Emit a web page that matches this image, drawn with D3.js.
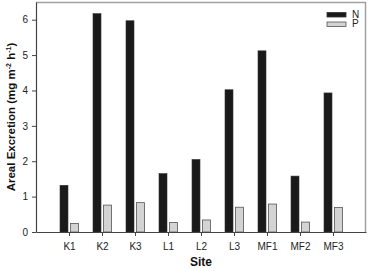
<!DOCTYPE html>
<html>
<head>
<meta charset="utf-8">
<script src="https://cdn.jsdelivr.net/npm/d3@7"></script>
<style>
  body { margin: 0; background: #fff; }
  svg { display: block; font-family: "Liberation Sans", Arial, sans-serif; }
</style>
</head>
<body>
<div class="cichart"></div>
<script>
// Data
var sites = ["K1", "K2", "K3", "L1", "L2", "L3", "MF1", "MF2", "MF3"];
var nValues = [1.32, 6.17, 5.97, 1.65, 2.05, 4.02, 5.12, 1.58, 3.93];
var pValues = [0.24, 0.76, 0.83, 0.27, 0.34, 0.70, 0.79, 0.28, 0.69];
var yTicks = [0, 1, 2, 3, 4, 5, 6];

var width = 369, height = 271;
var margin = { top: 2, right: 3, bottom: 39, left: 36 };

var svg = d3.select(".cichart").append("svg")
    .attr("width", width)
    .attr("height", height);

// x positions 1..9 inside 0..10
var x = d3.scaleLinear()
    .domain([0, sites.length + 1])
    .range([margin.left, width - margin.right]);

var y = d3.scaleLinear()
    .domain([0, 6.5])
    .range([height - margin.bottom, margin.top]);

var barW = 8;

// frame top/right (grey)
svg.append("path")
    .attr("d", "M" + margin.left + "," + (margin.top + 0.5) + "H" + (width - margin.right - 0.5) + "V" + y(0))
    .attr("fill", "none")
    .attr("stroke", "#a0a0a0")
    .attr("stroke-width", 1.5);

// N bars
svg.selectAll("rect.n")
    .data(nValues)
    .enter().append("rect")
    .attr("class", "n")
    .attr("x", function (d, i) { return x(i + 1) - barW - 1; })
    .attr("y", function (d) { return y(d); })
    .attr("width", barW)
    .attr("height", function (d) { return y(0) - y(d); })
    .style("fill", "#1a1a1a")
    .style("stroke", "#333")
    .style("stroke-width", 0.6);

// P bars
svg.selectAll("rect.p")
    .data(pValues)
    .enter().append("rect")
    .attr("class", "p")
    .attr("x", function (d, i) { return x(i + 1) + 1.5; })
    .attr("y", function (d) { return y(d); })
    .attr("width", barW)
    .attr("height", function (d) { return y(0) - y(d); })
    .style("fill", "#d3d3d3")
    .style("stroke", "#555")
    .style("stroke-width", 0.8);

// Axes
var yAxis = d3.axisLeft(y).tickValues(yTicks).tickFormat(d3.format("d"))
    .tickSize(4).tickSizeOuter(0).tickPadding(4);
var gy = svg.append("g")
    .attr("transform", "translate(" + margin.left + ",0)")
    .call(yAxis);

var xAxis = d3.axisBottom(x)
    .tickValues(d3.range(1, sites.length + 1))
    .tickFormat(function (d) { return sites[d - 1]; })
    .tickSize(4).tickSizeOuter(0).tickPadding(7);
var gx = svg.append("g")
    .attr("transform", "translate(0," + y(0) + ")")
    .call(xAxis);

[gx, gy].forEach(function (g) {
    g.select(".domain").attr("stroke", "#444").attr("stroke-width", 1.2);
    g.selectAll(".tick line").attr("stroke", "#444");
    g.selectAll(".tick text").attr("fill", "#222").style("font-size", "10px")
        .style("font-family", "'Liberation Sans', Arial, sans-serif");
});

// Axis titles
svg.append("text")
    .attr("x", (margin.left + width - margin.right) / 2)
    .attr("y", 266)
    .attr("text-anchor", "middle")
    .style("font-size", "12px")
    .style("font-weight", "bold")
    .attr("fill", "#111")
    .text("Site");

var yt = svg.append("text")
    .attr("transform", "translate(15," + ((margin.top + y(0)) / 2) + ") rotate(-90)")
    .attr("text-anchor", "middle")
    .style("font-size", "11.5px")
    .style("font-weight", "bold")
    .attr("fill", "#111");
yt.append("tspan").text("Areal Excretion (mg m");
yt.append("tspan").attr("dy", -4).style("font-size", "7px").text("-2");
yt.append("tspan").attr("dy", 4).text(" h");
yt.append("tspan").attr("dy", -4).style("font-size", "7px").text("-1");
yt.append("tspan").attr("dy", 4).text(")");

// Legend
var legendItems = [
    { label: "N", fill: "#1a1a1a", stroke: "#333" },
    { label: "P", fill: "#d3d3d3", stroke: "#555" }
];
var legend = svg.selectAll("g.legend")
    .data(legendItems)
    .enter().append("g")
    .attr("class", "legend")
    .attr("transform", function (d, i) { return "translate(327," + (12.5 + i * 9.5) + ")"; });
legend.append("rect")
    .attr("width", 19)
    .attr("height", 4.5)
    .style("fill", function (d) { return d.fill; })
    .style("stroke", function (d) { return d.stroke; })
    .style("stroke-width", 0.8);
legend.append("text")
    .attr("x", 25)
    .attr("y", 5)
    .style("font-size", "10px")
    .attr("fill", "#222")
    .text(function (d) { return d.label; });
</script>
</body>
</html>
